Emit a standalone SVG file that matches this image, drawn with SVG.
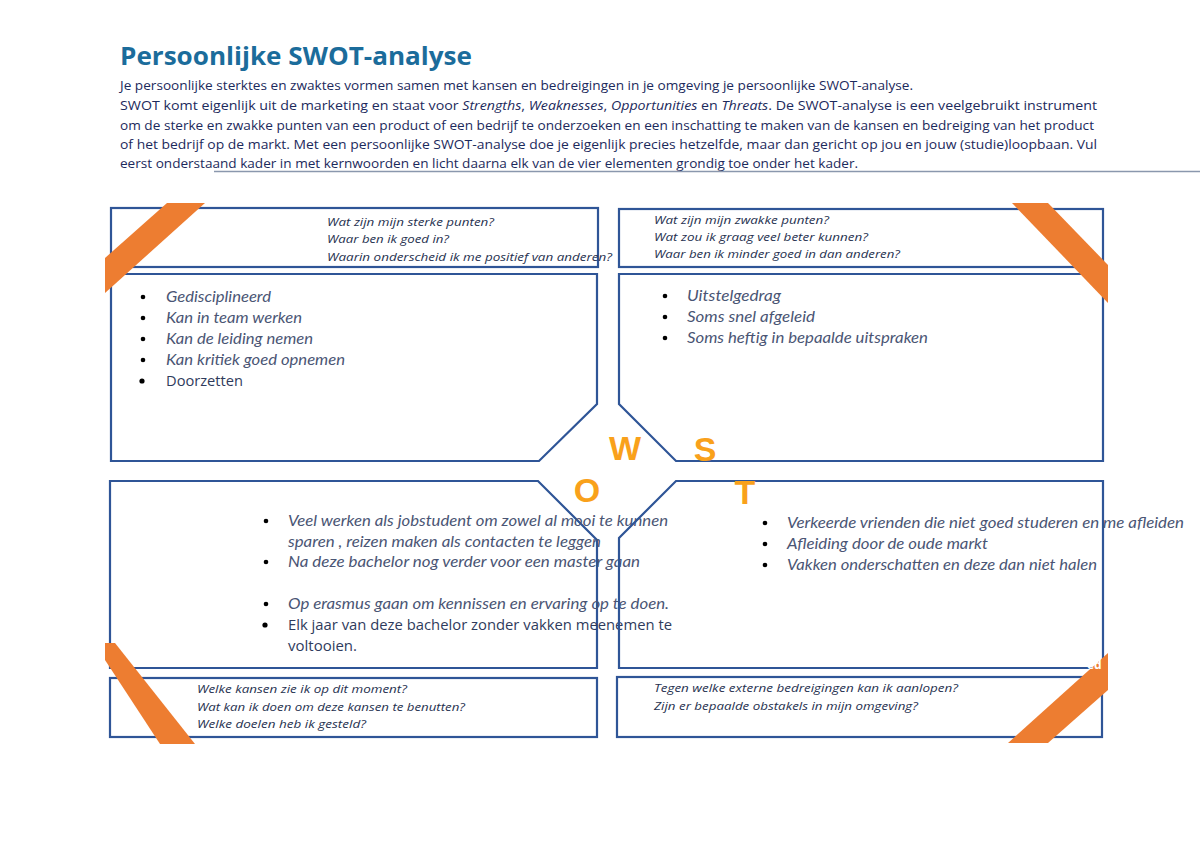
<svg xmlns="http://www.w3.org/2000/svg" width="1200" height="848" viewBox="0 0 1200 848">
<style>
.box{fill:none;stroke:#2f5597;stroke-width:2.2}
.band{fill:#ed7d31}
.title{font-family:"Open Sans","Liberation Sans",sans-serif;font-weight:bold;font-size:25px;fill:#1b6c9b}
.body{font-family:"Open Sans","Liberation Sans",sans-serif;font-size:12.8px;fill:#1c2a5c}
.q{font-family:"Open Sans","Liberation Sans",sans-serif;font-style:italic;font-size:11.5px;fill:#26314f}
.li{font-family:Lato,"Noto Sans",sans-serif;font-style:italic;font-weight:400;font-size:15.2px;fill:#4a5574}
.lu{font-family:"Open Sans","Liberation Sans",sans-serif;font-size:14px;fill:#2f3b5c}
.let{font-family:"Liberation Sans",Arial,sans-serif;font-weight:bold;font-size:34px;fill:#f9a11b}
.dot{fill:#000}
</style>
<rect width="1200" height="848" fill="#fff"/>
<g id="header">
<text class="title" x="120" y="65" textLength="352" lengthAdjust="spacingAndGlyphs">Persoonlijke SWOT-analyse</text>
<text class="body" x="120" y="90" textLength="793" lengthAdjust="spacingAndGlyphs">Je persoonlijke sterktes en zwaktes vormen samen met kansen en bedreigingen in je omgeving je persoonlijke SWOT-analyse.</text>
<text class="body" x="120" y="110" textLength="977" lengthAdjust="spacingAndGlyphs">SWOT komt eigenlijk uit de marketing en staat voor <tspan font-style="italic">Strengths</tspan>, <tspan font-style="italic">Weaknesses</tspan>, <tspan font-style="italic">Opportunities</tspan> en <tspan font-style="italic">Threats</tspan>. De SWOT-analyse is een veelgebruikt instrument</text>
<text class="body" x="120" y="130" textLength="974" lengthAdjust="spacingAndGlyphs">om de sterke en zwakke punten van een product of een bedrijf te onderzoeken en een inschatting te maken van de kansen en bedreiging van het product</text>
<text class="body" x="120" y="149" textLength="977" lengthAdjust="spacingAndGlyphs">of het bedrijf op de markt. Met een persoonlijke SWOT-analyse doe je eigenlijk precies hetzelfde, maar dan gericht op jou en jouw (studie)loopbaan. Vul</text>
<text class="body" x="120" y="168" textLength="738" lengthAdjust="spacingAndGlyphs">eerst onderstaand kader in met kernwoorden en licht daarna elk van de vier elementen grondig toe onder het kader.</text>
<line x1="214" y1="171.5" x2="1200" y2="171.5" stroke="#8a97ad" stroke-width="1.6"/>
</g>
<g id="connectors"></g>
<g id="S">
<rect class="box" x="111" y="208" width="487" height="59"/>
<polygon class="box" points="111,274 597,274 597,404 539,461 111,461"/>
<text class="q" x="327" y="226" textLength="167" lengthAdjust="spacingAndGlyphs">Wat zijn mijn sterke punten?</text>
<text class="q" x="327" y="243" textLength="122" lengthAdjust="spacingAndGlyphs">Waar ben ik goed in?</text>
<text class="q" x="327" y="261" textLength="285" lengthAdjust="spacingAndGlyphs">Waarin onderscheid ik me positief van anderen?</text>
<circle class="dot" cx="143" cy="297" r="2.3"/>
<circle class="dot" cx="143" cy="318" r="2.3"/>
<circle class="dot" cx="143" cy="339" r="2.3"/>
<circle class="dot" cx="143" cy="360" r="2.3"/>
<circle class="dot" cx="142" cy="381" r="2.6"/>
<text class="li" x="166" y="302" textLength="105" lengthAdjust="spacingAndGlyphs">Gedisciplineerd</text>
<text class="li" x="166" y="323" textLength="136" lengthAdjust="spacingAndGlyphs">Kan in team werken</text>
<text class="li" x="166" y="344" textLength="147" lengthAdjust="spacingAndGlyphs">Kan de leiding nemen</text>
<text class="li" x="166" y="365" textLength="179" lengthAdjust="spacingAndGlyphs">Kan kritiek goed opnemen</text>
<text class="lu" x="166" y="386" textLength="77" lengthAdjust="spacingAndGlyphs">Doorzetten</text>
</g>
<g id="W">
<rect class="box" x="619" y="209" width="484" height="58"/>
<polygon class="box" points="619,274 1103,274 1103,461 676,461 619,404"/>
<text class="q" x="654" y="224" textLength="175" lengthAdjust="spacingAndGlyphs">Wat zijn mijn zwakke punten?</text>
<text class="q" x="654" y="241" textLength="214" lengthAdjust="spacingAndGlyphs">Wat zou ik graag veel beter kunnen?</text>
<text class="q" x="654" y="258" textLength="246" lengthAdjust="spacingAndGlyphs">Waar ben ik minder goed in dan anderen?</text>
<circle class="dot" cx="665" cy="296" r="2.3"/>
<circle class="dot" cx="665" cy="317" r="2.3"/>
<circle class="dot" cx="665" cy="338" r="2.3"/>
<text class="li" x="687" y="301" textLength="94" lengthAdjust="spacingAndGlyphs">Uitstelgedrag</text>
<text class="li" x="687" y="322" textLength="128" lengthAdjust="spacingAndGlyphs">Soms snel afgeleid</text>
<text class="li" x="687" y="343" textLength="241" lengthAdjust="spacingAndGlyphs">Soms heftig in bepaalde uitspraken</text>
</g>
<g id="O">
<polygon class="box" points="110,481 538,481 597,540 597,668 110,668"/>
<rect class="box" x="110" y="678" width="487" height="59"/>
<text class="q" x="197" y="693" textLength="210" lengthAdjust="spacingAndGlyphs">Welke kansen zie ik op dit moment?</text>
<text class="q" x="197" y="711" textLength="268" lengthAdjust="spacingAndGlyphs">Wat kan ik doen om deze kansen te benutten?</text>
<text class="q" x="197" y="728" textLength="169" lengthAdjust="spacingAndGlyphs">Welke doelen heb ik gesteld?</text>
<circle class="dot" cx="266" cy="521" r="2.3"/>
<circle class="dot" cx="266" cy="562" r="2.3"/>
<circle class="dot" cx="266" cy="604" r="2.3"/>
<circle class="dot" cx="265" cy="625" r="2.6"/>
<text class="li" x="288" y="526" textLength="380" lengthAdjust="spacingAndGlyphs">Veel werken als jobstudent om zowel al mooi te kunnen</text>
<text class="li" x="288" y="547" textLength="313" lengthAdjust="spacingAndGlyphs">sparen , reizen maken als contacten te leggen</text>
<text class="li" x="288" y="567" textLength="352" lengthAdjust="spacingAndGlyphs">Na deze bachelor nog verder voor een master gaan</text>
<text class="li" x="288" y="609" textLength="381" lengthAdjust="spacingAndGlyphs">Op erasmus gaan om kennissen en ervaring op te doen.</text>
<text class="lu" x="288" y="630" textLength="384" lengthAdjust="spacingAndGlyphs">Elk jaar van deze bachelor zonder vakken meenemen te</text>
<text class="lu" x="288" y="651" textLength="69" lengthAdjust="spacingAndGlyphs">voltooien.</text>
</g>
<g id="T">
<polygon class="box" points="676,481 1103,481 1103,668 619,668 619,538"/>
<rect class="box" x="617" y="677" width="485" height="60"/>
<text class="q" x="654" y="692" textLength="304" lengthAdjust="spacingAndGlyphs">Tegen welke externe bedreigingen kan ik aanlopen?</text>
<text class="q" x="654" y="710" textLength="264" lengthAdjust="spacingAndGlyphs">Zijn er bepaalde obstakels in mijn omgeving?</text>
<circle class="dot" cx="765" cy="523" r="2.3"/>
<circle class="dot" cx="765" cy="544" r="2.3"/>
<circle class="dot" cx="765" cy="565" r="2.3"/>
<text class="li" x="787" y="528" textLength="397" lengthAdjust="spacingAndGlyphs">Verkeerde vrienden die niet goed studeren en me afleiden</text>
<text class="li" x="787" y="549" textLength="201" lengthAdjust="spacingAndGlyphs">Afleiding door de oude markt</text>
<text class="li" x="787" y="570" textLength="310" lengthAdjust="spacingAndGlyphs">Vakken onderschatten en deze dan niet halen</text>
</g>
<g id="bands">
<polygon class="band" points="167,203 205,203 105,293 105,258"/>
<polygon class="band" points="1012,203 1048,203 1108,265 1108,303"/>
<polygon class="band" points="105,643 115,643 195,744 160,744 105,660"/>
<polygon class="band" points="1008,743 1048,743 1108,690 1108,653"/>
<text x="1087" y="669" font-family="'Open Sans','Liberation Sans',sans-serif" font-weight="bold" font-size="12" fill="#fff">ed</text>
</g>
<g id="letters">
<text class="let" x="625" y="460" text-anchor="middle">W</text>
<text class="let" x="705" y="461" text-anchor="middle">S</text>
<text class="let" x="587" y="502" text-anchor="middle">O</text>
<text class="let" x="745" y="504" text-anchor="middle">T</text>
</g>
</svg>
